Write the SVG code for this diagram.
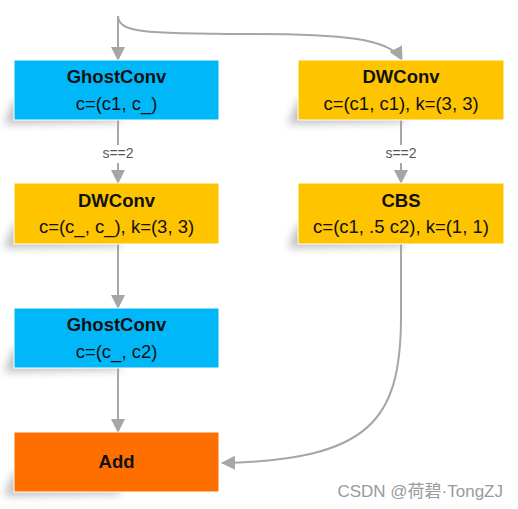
<svg xmlns="http://www.w3.org/2000/svg" width="518" height="509" viewBox="0 0 518 509">
<defs>
<style>
.t{font-family:"Liberation Sans",Arial,sans-serif;font-size:18.5px;fill:#111;text-anchor:middle}
.b{font-weight:bold}
.s{font-family:"Liberation Sans",Arial,sans-serif;font-size:14px;fill:#595959;text-anchor:middle}
.c{fill:none;stroke:#A6A6A6;stroke-width:2}
.sh{fill:#8a8a8a;opacity:0.55;filter:url(#blur)}
.box{stroke:#fff;stroke-width:1}
</style>
<filter id="blur" x="-30%" y="-60%" width="160%" height="220%"><feGaussianBlur stdDeviation="4"/></filter>
<marker id="ah" markerWidth="14" markerHeight="14" viewBox="0 0 14 14" refX="13" refY="7" orient="auto" markerUnits="userSpaceOnUse">
<path d="M0,0 L14,7 L0,14 Z" fill="#A6A6A6"/>
</marker>
</defs>
<rect width="518" height="509" fill="#fff"/>
<g id="shadows">
<path class="sh" d="M14,100 L120,112 L120,122 L4,124 Z"/>
<path class="sh" d="M298,100 L404,112 L404,122 L288,124 Z"/>
<path class="sh" d="M14,224 L120,236 L120,246 L4,248 Z"/>
<path class="sh" d="M298,224 L404,236 L404,246 L288,248 Z"/>
<path class="sh" d="M14,348 L120,360 L120,370 L4,372 Z"/>
<path class="sh" d="M14,472 L120,484 L120,494 L4,496 Z"/>
</g>
<g id="connectors">
<path class="c" d="M118,16 L118,60" marker-end="url(#ah)"/>
<path class="c" d="M118,16 C119,32 140,34 250,34 C340,34 390,38 402,60" marker-end="url(#ah)"/>
<path class="c" d="M118,120 L118,145"/>
<path class="c" d="M118,163 L118,183" marker-end="url(#ah)"/>
<path class="c" d="M401,120 L401,145"/>
<path class="c" d="M401,163 L401,183" marker-end="url(#ah)"/>
<path class="c" d="M118,244 L118,308" marker-end="url(#ah)"/>
<path class="c" d="M118,368 L118,432" marker-end="url(#ah)"/>
<path class="c" d="M401,244 L401,320 C400,420 370,460 222,463" marker-end="url(#ah)"/>
<text class="s" x="118" y="158">s==2</text>
<text class="s" x="401" y="158">s==2</text>
</g>
<g id="ghostconv1">
<rect class="box" x="14" y="60" width="205" height="60" fill="#00B8F8"/>
<text class="t b" x="116.5" y="83">GhostConv</text>
<text class="t" x="116.5" y="110">c=(c1, c_)</text>
</g>
<g id="dwconv-right">
<rect class="box" x="298" y="60" width="206" height="60" fill="#FFC400"/>
<text class="t b" x="401" y="83">DWConv</text>
<text class="t" x="401" y="110">c=(c1, c1), k=(3, 3)</text>
</g>
<g id="dwconv-left">
<rect class="box" x="14" y="183" width="205" height="61" fill="#FFC400"/>
<text class="t b" x="116.5" y="207">DWConv</text>
<text class="t" x="116.5" y="233">c=(c_, c_), k=(3, 3)</text>
</g>
<g id="cbs">
<rect class="box" x="298" y="183" width="206" height="61" fill="#FFC400"/>
<text class="t b" x="401" y="207">CBS</text>
<text class="t" x="401" y="233">c=(c1, .5 c2), k=(1, 1)</text>
</g>
<g id="ghostconv2">
<rect class="box" x="14" y="308" width="205" height="60" fill="#00B8F8"/>
<text class="t b" x="116.5" y="331">GhostConv</text>
<text class="t" x="116.5" y="358">c=(c_, c2)</text>
</g>
<g id="add">
<rect class="box" x="14" y="432" width="205" height="60" fill="#FF6F00"/>
<text class="t b" x="116.5" y="468">Add</text>
</g>
<text x="503" y="497" font-family="'Liberation Sans','Noto Sans CJK SC',sans-serif" font-size="17" fill="#9a9a9a" text-anchor="end">CSDN @荷碧·TongZJ</text>
</svg>
